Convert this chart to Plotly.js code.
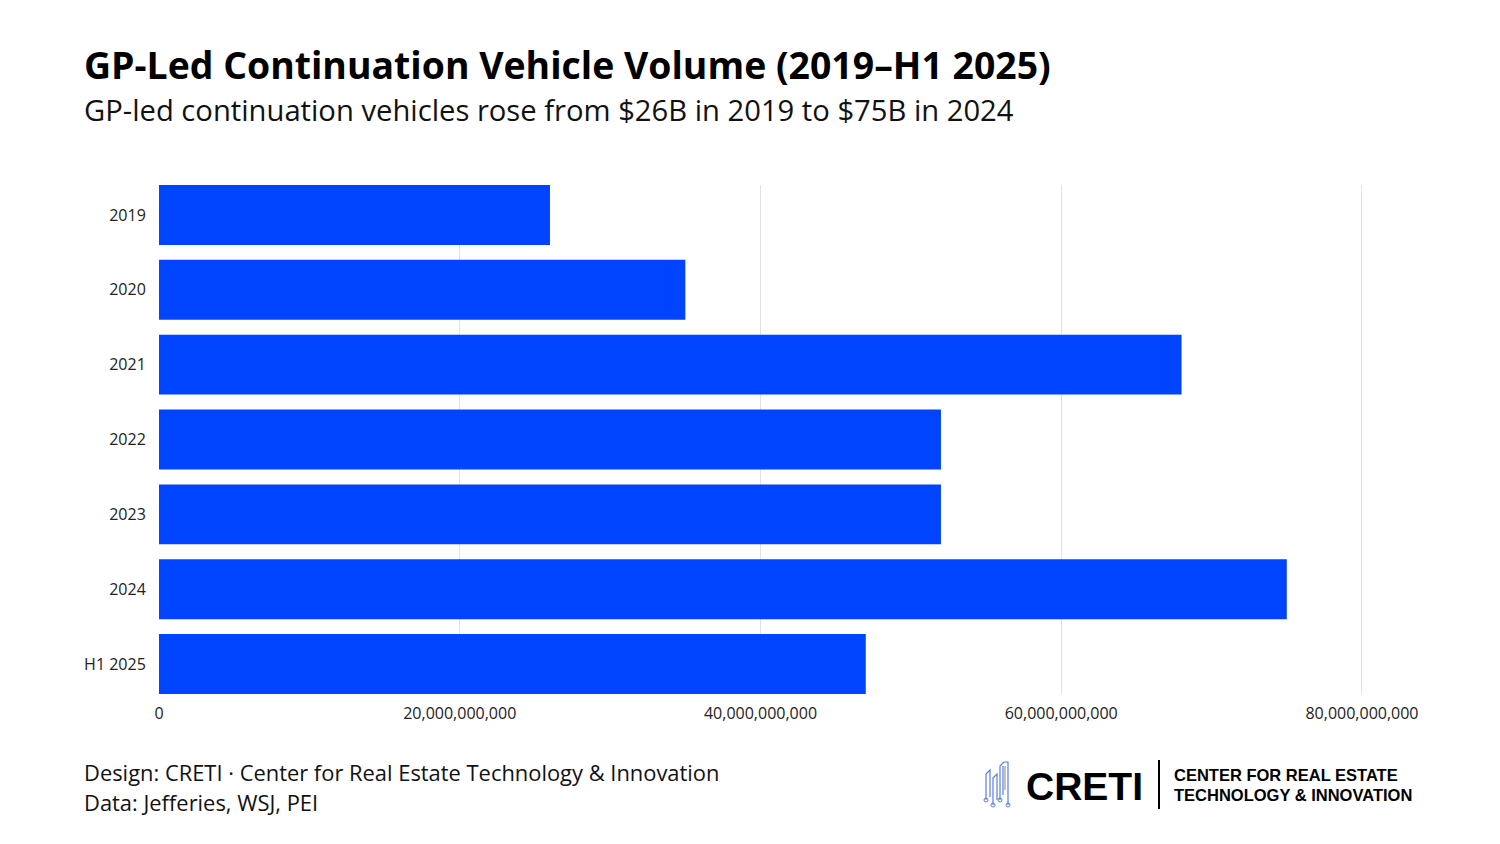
<!DOCTYPE html>
<html>
<head>
<meta charset="utf-8">
<script src="https://cdn.plot.ly/plotly-3.0.1.min.js"></script>
<style>html,body{margin:0;padding:0;background:#fff;}#chart{width:1500px;height:844px;}</style>
</head>
<body>
<div id="chart"></div>
<script>
const categories = ["2019", "2020", "2021", "2022", "2023", "2024", "H1 2025"];
const volumes = [26e9, 35e9, 68e9, 52e9, 52e9, 75e9, 47e9];
const xTickVals = [0, 20e9, 40e9, 60e9, 80e9];
const xTickText = ["0", "20,000,000,000", "40,000,000,000", "60,000,000,000", "80,000,000,000"];

const W = 1500, H = 844;
const L = 159, R = 1365, T = 185, B = 694;
const px = x => (x - L) / (R - L);
const py = y => (B - y) / (B - T);

const blue = "#0044ff";
const font = "Open Sans, sans-serif";

const data = [{
  type: "bar",
  orientation: "h",
  y: categories,
  x: volumes,
  marker: {color: blue},
  hoverinfo: "x+y"
}];

const ann = [
  {text: "<b>GP-Led Continuation Vehicle Volume (2019–H1 2025)</b>", x: px(82), y: py(64), xanchor: "left", yanchor: "middle", font: {size: 37.4, color: "#000", family: font}},
  {text: "GP-led continuation vehicles rose from $26B in 2019 to $75B in 2024", x: px(82), y: py(110), xanchor: "left", yanchor: "middle", font: {size: 29.2, color: "#111", family: font}},
  {text: "Design: CRETI · Center for Real Estate Technology & Innovation", x: px(82), y: py(772), xanchor: "left", yanchor: "middle", font: {size: 21.9, color: "#111", family: font}},
  {text: "Data: Jefferies, WSJ, PEI", x: px(82), y: py(802), xanchor: "left", yanchor: "middle", font: {size: 21.9, color: "#111", family: font}},
  {text: "<b>CRETI</b>", x: px(1024), y: py(786), xanchor: "left", yanchor: "middle", font: {size: 39, color: "#000", family: "Liberation Sans, Arial, sans-serif"}},
  {text: "<b>CENTER FOR REAL ESTATE</b>", x: px(1172), y: py(775), xanchor: "left", yanchor: "middle", font: {size: 16.5, color: "#000", family: "Liberation Sans, Arial, sans-serif"}},
  {text: "<b>TECHNOLOGY & INNOVATION</b>", x: px(1172), y: py(795), xanchor: "left", yanchor: "middle", font: {size: 16.5, color: "#000", family: "Liberation Sans, Arial, sans-serif"}}
].map(a => Object.assign({xref: "paper", yref: "paper", showarrow: false}, a));

const iconColor = "#5a7fe0";
function pth(pts){ return "M" + pts.map(p => px(p[0]) + "," + py(p[1])).join(" L"); }
const shapes = [
  {type: "line", x0: px(1159), x1: px(1159), y0: py(760), y1: py(809), line: {color: "#000", width: 2}},
  // icon
  {type: "path", path: pth([[986,800],[986,774],[990,770],[990,797]]), line: {color: iconColor, width: 1.2}},
  {type: "path", path: pth([[993,805],[993,778],[997,774],[997,800]]), line: {color: iconColor, width: 1.2}},
  {type: "path", path: pth([[1000,800],[1000,766],[1004,762],[1008,762],[1008,805]]), line: {color: iconColor, width: 1.2}},
  {type: "path", path: pth([[1003,766],[1003,795]]), line: {color: iconColor, width: 1.2}},
  {type: "path", path: pth([[1005,766],[1005,790]]), line: {color: "#888", width: 1}},
  {type: "circle", x0: px(984), x1: px(988), y0: py(802), y1: py(798), line: {color: iconColor, width: 1}},
  {type: "circle", x0: px(991), x1: px(995), y0: py(807), y1: py(803), line: {color: iconColor, width: 1}},
  {type: "circle", x0: px(998), x1: px(1002), y0: py(802), y1: py(798), line: {color: iconColor, width: 1}},
  {type: "circle", x0: px(1006), x1: px(1010), y0: py(807), y1: py(803), line: {color: iconColor, width: 1}}
].map(s => Object.assign({xref: "paper", yref: "paper"}, s));

const layout = {
  width: W, height: H,
  margin: {l: L, r: W - R, t: T, b: H - B, pad: 0},
  paper_bgcolor: "#fff",
  plot_bgcolor: "#fff",
  showlegend: false,
  bargap: 0.2,
  font: {family: font, color: "#222"},
  xaxis: {
    range: [0, 80.2e9],
    tickvals: xTickVals,
    ticktext: xTickText,
    showgrid: true,
    gridcolor: "#e2e2e2",
    gridwidth: 1,
    zeroline: false,
    showline: false,
    ticks: "outside", ticklen: 5, tickcolor: "rgba(0,0,0,0)",
    tickfont: {size: 16, color: "#222", family: font}
  },
  yaxis: {
    type: "category",
    range: [6.4, -0.4],
    showgrid: false,
    zeroline: false,
    showline: false,
    ticks: "outside", ticklen: 9, tickcolor: "rgba(0,0,0,0)",
    tickfont: {size: 16, color: "#222", family: font}
  },
  annotations: ann,
  shapes: shapes
};

Plotly.newPlot("chart", data, layout, {displayModeBar: false, staticPlot: true});
</script>
</body>
</html>
